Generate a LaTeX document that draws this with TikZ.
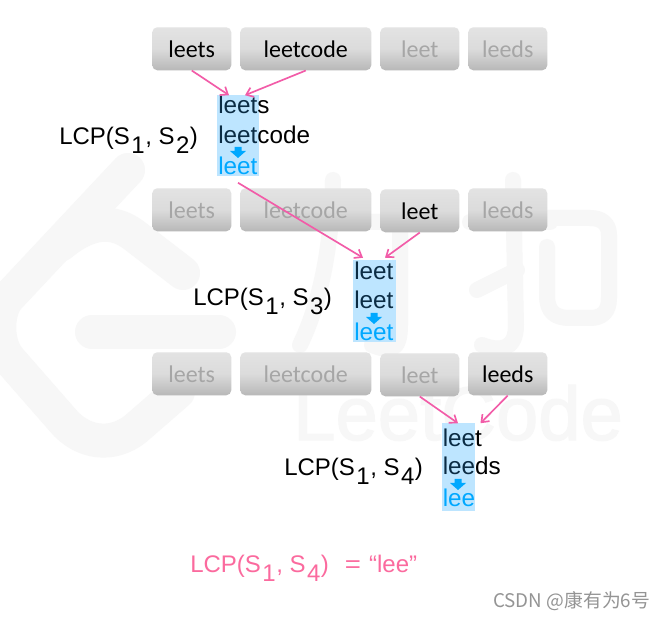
\documentclass[tikz,border=0pt]{standalone}
\usepackage{fontspec}
\setmainfont{Liberation Sans}
\newfontfamily\boxfont{Carlito}
\newfontfamily\cjkfont{Noto Sans CJK SC}
\newfontfamily\wmfont[FakeBold=1.6]{Liberation Sans}
\usetikzlibrary{arrows.meta,calc}
\definecolor{wm}{HTML}{F7F7F7}
\definecolor{hlbg}{HTML}{BDE5FF}
\definecolor{hltext}{HTML}{0B2C44}
\definecolor{lcpblue}{HTML}{00A8FF}
\definecolor{linkpink}{HTML}{F25CA8}
\definecolor{respink}{HTML}{FB6A9E}
\definecolor{fade}{HTML}{A6A6A6}
\def\px{0.75pt}
\newcommand{\subd}[1]{\kern1.5\dimexpr\px\relax\raisebox{-9\dimexpr\px\relax}{\fontsize{18}{18}\selectfont #1}\kern0.5\dimexpr\px\relax}
\newcommand{\lcp}[2]{LCP(S\subd{#1}, S\subd{#2})}
\tikzset{
  wmline/.style={draw=wm,line width=34*\px,line cap=round,line join=round},
  wmthin/.style={draw=wm,line width=16*\px,line cap=round,line join=round},
  wmtext/.style={text=wm,anchor=base west,inner sep=0,font=\wmfont\fontsize{57}{57}\selectfont},
  wordbox/.style={rounded corners=5*\px,top color=boxtop,bottom color=boxbot,middle color=boxmid,inner sep=0,
    minimum height=43*\px,font=\boxfont\fontsize{18}{18}\selectfont,anchor=north west},
  shortbox/.style={wordbox,minimum width=79*\px},
  longbox/.style={wordbox,minimum width=131*\px},
  dim/.style={text=fade},
  hl/.style={fill=hlbg,inner sep=0},
  stack/.style={anchor=base west,inner sep=0,font=\fontsize{18.2}{18.2}\selectfont},
  res/.style={stack,text=lcpblue},
  lcplabel/.style={anchor=base west,inner sep=0,font=\fontsize{18}{18}\selectfont},
  link/.style={draw=linkpink,line width=1.25pt,-{Straight Barb[length=6.5*\px,width=10*\px,line width=1.25pt]}},
  down/.style={fill=lcpblue}
}
\colorlet{boxtop}{black!11}
\colorlet{boxmid}{black!14}
\colorlet{boxbot}{black!28}
\newcommand{\blockdown}[1]{\fill[down,shift={#1}] (-3.5,0) -- (3.5,0) -- (3.5,4) -- (8,4) -- (0,11) -- (-8,4) -- (-3.5,4) -- cycle;}
\begin{document}
\begin{tikzpicture}[x=0.75pt,y=-0.75pt]
\useasboundingbox (0,0) rectangle (665,620);
\fill[white] (0,0) rectangle (665,620);
% watermark: logo
\draw[wmline] (128,170) -- (8,298) .. controls (-4,312) and (-4,345) .. (10,360) -- (66,424) .. controls (88,446) and (118,446) .. (140,425) -- (178,392);
\draw[wmline] (183,273) -- (135,236) .. controls (112,218) and (88,222) .. (60,245);
\draw[wmline] (92,332) -- (219,332);
% watermark: characters
\draw[wmthin] (333,180) .. controls (332,240) and (322,300) .. (300,345);
\draw[wmthin] (292,222) -- (400,222) -- (400,325) .. controls (400,352) and (390,352) .. (372,345);
\draw[wmthin] (513,180) -- (516,325) .. controls (516,350) and (500,352) .. (482,345);
\draw[wmthin] (470,222) -- (550,222);
\draw[wmthin] (477,290) -- (517,270);
\draw[wmthin] (547,247) -- (547,295) .. controls (547,312) and (555,318) .. (570,318) -- (590,318) .. controls (602,318) and (609,312) .. (609,298) -- (609,235) .. controls (609,224) and (602,218) .. (590,218) -- (540,218);
\node[wmtext] (wmword) at (293,440) {LeetCode};
% row 1
\node[shortbox] (a1) at (152,27) {leets};
\node[longbox] (a2) at (240,27) {leetcode};
\node[shortbox,dim] (a3) at (380,27) {leet};
\node[shortbox,dim] (a4) at (468,27) {leeds};
% row 2
\node[shortbox,dim] (b1) at (152,188) {leets};
\node[longbox,dim] (b2) at (240,188) {leetcode};
\node[shortbox] (b3) at (380,189) {leet};
\node[shortbox,dim] (b4) at (468,188) {leeds};
% row 3
\node[shortbox,dim] (c1) at (152,352) {leets};
\node[longbox,dim] (c2) at (240,352) {leetcode};
\node[shortbox,dim] (c3) at (380,353) {leet};
\node[shortbox] (c4) at (468,352) {leeds};
% stack 1
\node[hl,minimum width=42*\px,minimum height=81*\px] (h1) at (238,136) {};
\node[stack] (s1a) at (218,114) {\textcolor{hltext}{leet}s};
\node[stack] (s1b) at (218,144) {\textcolor{hltext}{leet}code};
\blockdown{(238,147)}
\node[res] (s1c) at (218,175) {leet};
% stack 2
\node[hl,minimum width=43*\px,minimum height=82*\px] (h2) at (374.5,301) {};
\node[stack,text=hltext] (s2a) at (354,280) {leet};
\node[stack,text=hltext] (s2b) at (354,309) {leet};
\blockdown{(374,313)}
\node[res] (s2c) at (354,341) {leet};
% stack 3
\node[hl,minimum width=33*\px,minimum height=88*\px] (h3) at (458.5,467.5) {};
\node[stack] (s3a) at (442.5,447) {\textcolor{hltext}{lee}t};
\node[stack] (s3b) at (442.5,475) {\textcolor{hltext}{lee}ds};
\blockdown{(458,479)}
\node[res] (s3c) at (442.5,507) {lee};
% labels
\node[lcplabel] (l1) at (59,145) {\lcp{1}{2}};
\node[lcplabel] (l2) at (193,306) {\lcp{1}{3}};
\node[lcplabel] (l3) at (284,476) {\lcp{1}{4}};
\node[lcplabel,text=respink] (l4) at (190,573) {\lcp{1}{4}\kern 16\dimexpr\px\relax\scalebox{1.15}[1]{=}\kern 8\dimexpr\px\relax “lee”};
\node[anchor=base west,inner sep=0,text=black!42,font=\cjkfont\fontsize{14.1}{15}\selectfont] (csdn) at (493,608) {CSDN @康有为6号};
% connectors
\draw[link] (a1.south) -- ($(h1.north)+(-9,0)$);
\draw[link] (a2.south) -- ($(h1.north)+(7,0)$);
\draw[link] ($(h1.south)+(0,6)$) -- ($(h2.north)+(-11.5,-2)$);
\draw[link] (b3.south) -- ($(h2.north)+(10.5,-2)$);
\draw[link] (c3.south) -- ($(h3.north)+(-0.5,0)$);
\draw[link] (c4.south) -- ($(h3.north)+(22,0)$);
\end{tikzpicture}
\end{document}
